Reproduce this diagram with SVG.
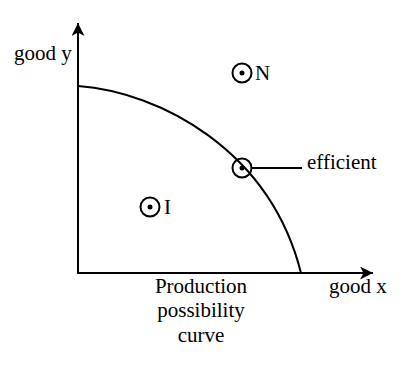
<svg xmlns="http://www.w3.org/2000/svg" width="420" height="380" viewBox="0 0 420 380">
<defs>
<style>
.ln{fill:none;stroke:#000;stroke-width:2}
text{font-family:'Liberation Serif','Times New Roman','DejaVu Serif',serif;font-size:21px;fill:#000}
.ring{fill:none;stroke:#000;stroke-width:2}
</style>
<marker id="arr" markerWidth="14" markerHeight="14" refX="13" refY="6.5" orient="auto" markerUnits="userSpaceOnUse">
<path d="M0,0 L13,6.5 L0,13 L3.5,6.5 Z" fill="#000"/>
</marker>
</defs>
<rect width="420" height="380" fill="#fff"/>
<g id="connectors">
<line class="ln" x1="78" y1="274" x2="78" y2="23" marker-end="url(#arr)"/>
<line class="ln" x1="77" y1="273" x2="373" y2="273" marker-end="url(#arr)"/>
<path id="curve" class="ln" d="M78,86 C160,92 270,150 301,273"/>
<line class="ln" x1="252" y1="168" x2="302" y2="168"/>
</g>
<g id="axis-y-label"><text font-family="Liberation Serif, serif" x="14" y="60">good y</text></g>
<g id="axis-x-label"><text font-family="Liberation Serif, serif" x="329" y="293">good x</text></g>
<g id="curve-label">
<text font-family="Liberation Serif, serif" x="201" y="293" text-anchor="middle">Production</text>
<text font-family="Liberation Serif, serif" x="201" y="317" text-anchor="middle">possibility</text>
<text font-family="Liberation Serif, serif" x="201" y="342" text-anchor="middle">curve</text>
</g>
<g id="point-N">
<circle class="ring" cx="242" cy="73" r="9.5"/>
<circle cx="242" cy="73" r="2.5" fill="#000"/>
<text font-family="Liberation Serif, serif" x="255" y="80">N</text>
</g>
<g id="point-I">
<circle class="ring" cx="150" cy="207" r="9.5"/>
<circle cx="150" cy="207" r="2.5" fill="#000"/>
<text font-family="Liberation Serif, serif" x="164" y="214">I</text>
</g>
<g id="point-efficient">
<circle class="ring" cx="242" cy="168" r="9.5"/>
<circle cx="242" cy="168" r="2.5" fill="#000"/>
<text font-family="Liberation Serif, serif" x="307" y="169">efficient</text>
</g>
</svg>
